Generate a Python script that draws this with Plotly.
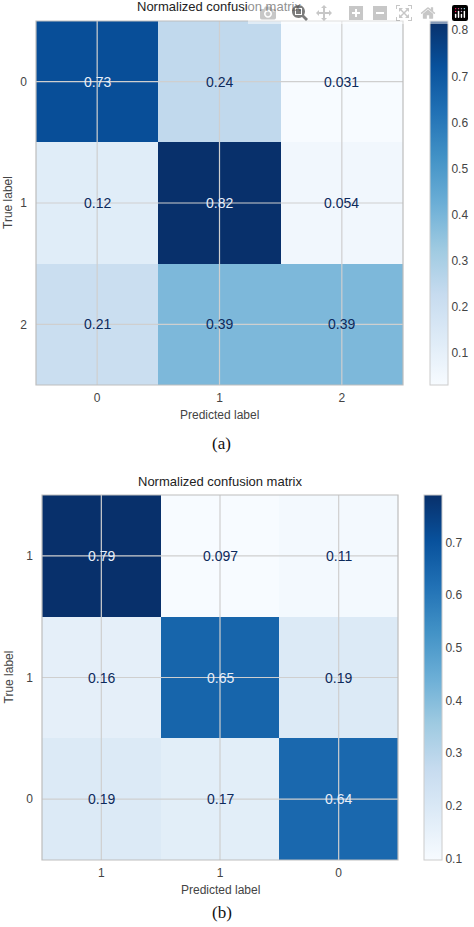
import plotly.graph_objects as go

labels_a = ["0", "1", "2"]
values_a = [[0.73, 0.24, 0.031], [0.12, 0.82, 0.054], [0.21, 0.39, 0.39]]
text_a = [["0.73", "0.24", "0.031"], ["0.12", "0.82", "0.054"], ["0.21", "0.39", "0.39"]]
cbar_ticks_a = [0.1, 0.2, 0.3, 0.4, 0.5, 0.6, 0.7, 0.8]

labels_b = ["1", "1", "0"]
values_b = [[0.79, 0.097, 0.11], [0.16, 0.65, 0.19], [0.19, 0.17, 0.64]]
text_b = [["0.79", "0.097", "0.11"], ["0.16", "0.65", "0.19"], ["0.19", "0.17", "0.64"]]
cbar_ticks_b = [0.1, 0.2, 0.3, 0.4, 0.5, 0.6, 0.7]

H, W = 927, 474
FONT = "Liberation Sans, Arial, sans-serif"
fig = go.Figure()

panels = [
    dict(vals=values_a, txt=text_a, labs=labels_a, ticks=cbar_ticks_a, xa="x", ya="y",
         xd=[36/W, 403/W], yd=[1-385/H, 1-21/H], cbx=430/W, cap="(a)", capy=1-443/H,
         ttl=1-7/H, plab=1-415/H),
    dict(vals=values_b, txt=text_b, labs=labels_b, ticks=cbar_ticks_b, xa="x2", ya="y2",
         xd=[42/W, 398/W], yd=[1-860/H, 1-495/H], cbx=424/W, cap="(b)", capy=1-912/H,
         ttl=1-481/H, plab=1-890/H),
]

shapes, annots = [], []
for i, p in enumerate(panels):
    n = len(p["labs"])
    idx = list(range(n))
    vmin = min(min(r) for r in p["vals"]); vmax = max(max(r) for r in p["vals"])
    fig.add_trace(go.Heatmap(
        z=p["vals"], x=idx, y=idx, xaxis=p["xa"], yaxis=p["ya"],
        colorscale="Blues", zmin=vmin, zmax=vmax, xgap=0, ygap=0,
        hoverinfo="skip",
        colorbar=dict(x=p["cbx"], xanchor="left", y=sum(p["yd"])/2, yanchor="middle",
                      len=p["yd"][1]-p["yd"][0], lenmode="fraction", thickness=18, xpad=0, ypad=0,
                      outlinecolor="#cccccc", outlinewidth=1, tickvals=p["ticks"],
                      ticks="", tickfont=dict(size=12, color="#444", family=FONT)),
    ))
    xr = "x" if i == 0 else "x2"; yr = "y" if i == 0 else "y2"
    for k in idx:
        shapes.append(dict(type="line", xref=xr, yref=yr, x0=k, x1=k, y0=-0.5, y1=n-0.5,
                           line=dict(color="#cfcfcf", width=1.2), layer="above"))
        shapes.append(dict(type="line", xref=xr, yref=yr, y0=k, y1=k, x0=-0.5, x1=n-0.5,
                           line=dict(color="#cfcfcf", width=1.2), layer="above"))
    shapes.append(dict(type="rect", xref=xr+" domain", yref=yr+" domain", x0=0, x1=1, y0=0, y1=1,
                       line=dict(color="#bdbdbd", width=1.2), layer="above"))
    thr = vmin + 0.6*(vmax-vmin)
    for r in idx:
        for c in idx:
            v = p["vals"][r][c]
            annots.append(dict(xref=xr, yref=yr, x=c, y=r, text=p["txt"][r][c], showarrow=False,
                               font=dict(size=14, family=FONT, color="#e8eef8" if v > thr else "#0d2a5c")))
    annots.append(dict(xref="paper", yref="paper", x=sum(p["xd"])/2, y=p["ttl"], yanchor="middle",
                       text="Normalized confusion matrix", showarrow=False,
                       font=dict(size=13, family=FONT, color="#222")))
    annots.append(dict(xref="paper", yref="paper", x=sum(p["xd"])/2, y=p["plab"], yanchor="middle",
                       text="Predicted label", showarrow=False,
                       font=dict(size=12, family=FONT, color="#444")))
    annots.append(dict(xref="paper", yref="paper", x=0.5*(p["xd"][0]+p["xd"][1])+0.005, y=p["capy"],
                       yanchor="middle", text=p["cap"], showarrow=False,
                       font=dict(size=17, family="Liberation Serif, Times New Roman, serif", color="#111")))
    annots.append(dict(xref="paper", yref="paper", x=8/W, y=sum(p["yd"])/2, textangle=-90,
                       xanchor="center", yanchor="middle", text="True label", showarrow=False,
                       font=dict(size=12, family=FONT, color="#444")))
    ax = dict(domain=p["xd"], tickvals=idx, ticktext=p["labs"], showgrid=False, zeroline=False,
              range=[-0.5, n-0.5], tickfont=dict(size=12, color="#444", family=FONT), ticks="",
              ticklabelstandoff=4, anchor=yr)
    ay = dict(domain=p["yd"], tickvals=idx, ticktext=p["labs"], showgrid=False, zeroline=False,
              range=[n-0.5, -0.5], tickfont=dict(size=12, color="#444", family=FONT), ticks="",
              ticklabelstandoff=8, anchor=xr)
    if i == 0:
        fig.update_layout(xaxis=ax, yaxis=ay)
    else:
        fig.update_layout(xaxis2=ax, yaxis2=ay)

fig.update_layout(width=W, height=H, margin=dict(l=0, r=0, t=0, b=0),
                  paper_bgcolor="white", plot_bgcolor="white",
                  shapes=shapes, annotations=annots, showlegend=False)
fig.write_html("out.html",
               post_script="document.body.style.margin='0';document.body.style.overflow='hidden';")
